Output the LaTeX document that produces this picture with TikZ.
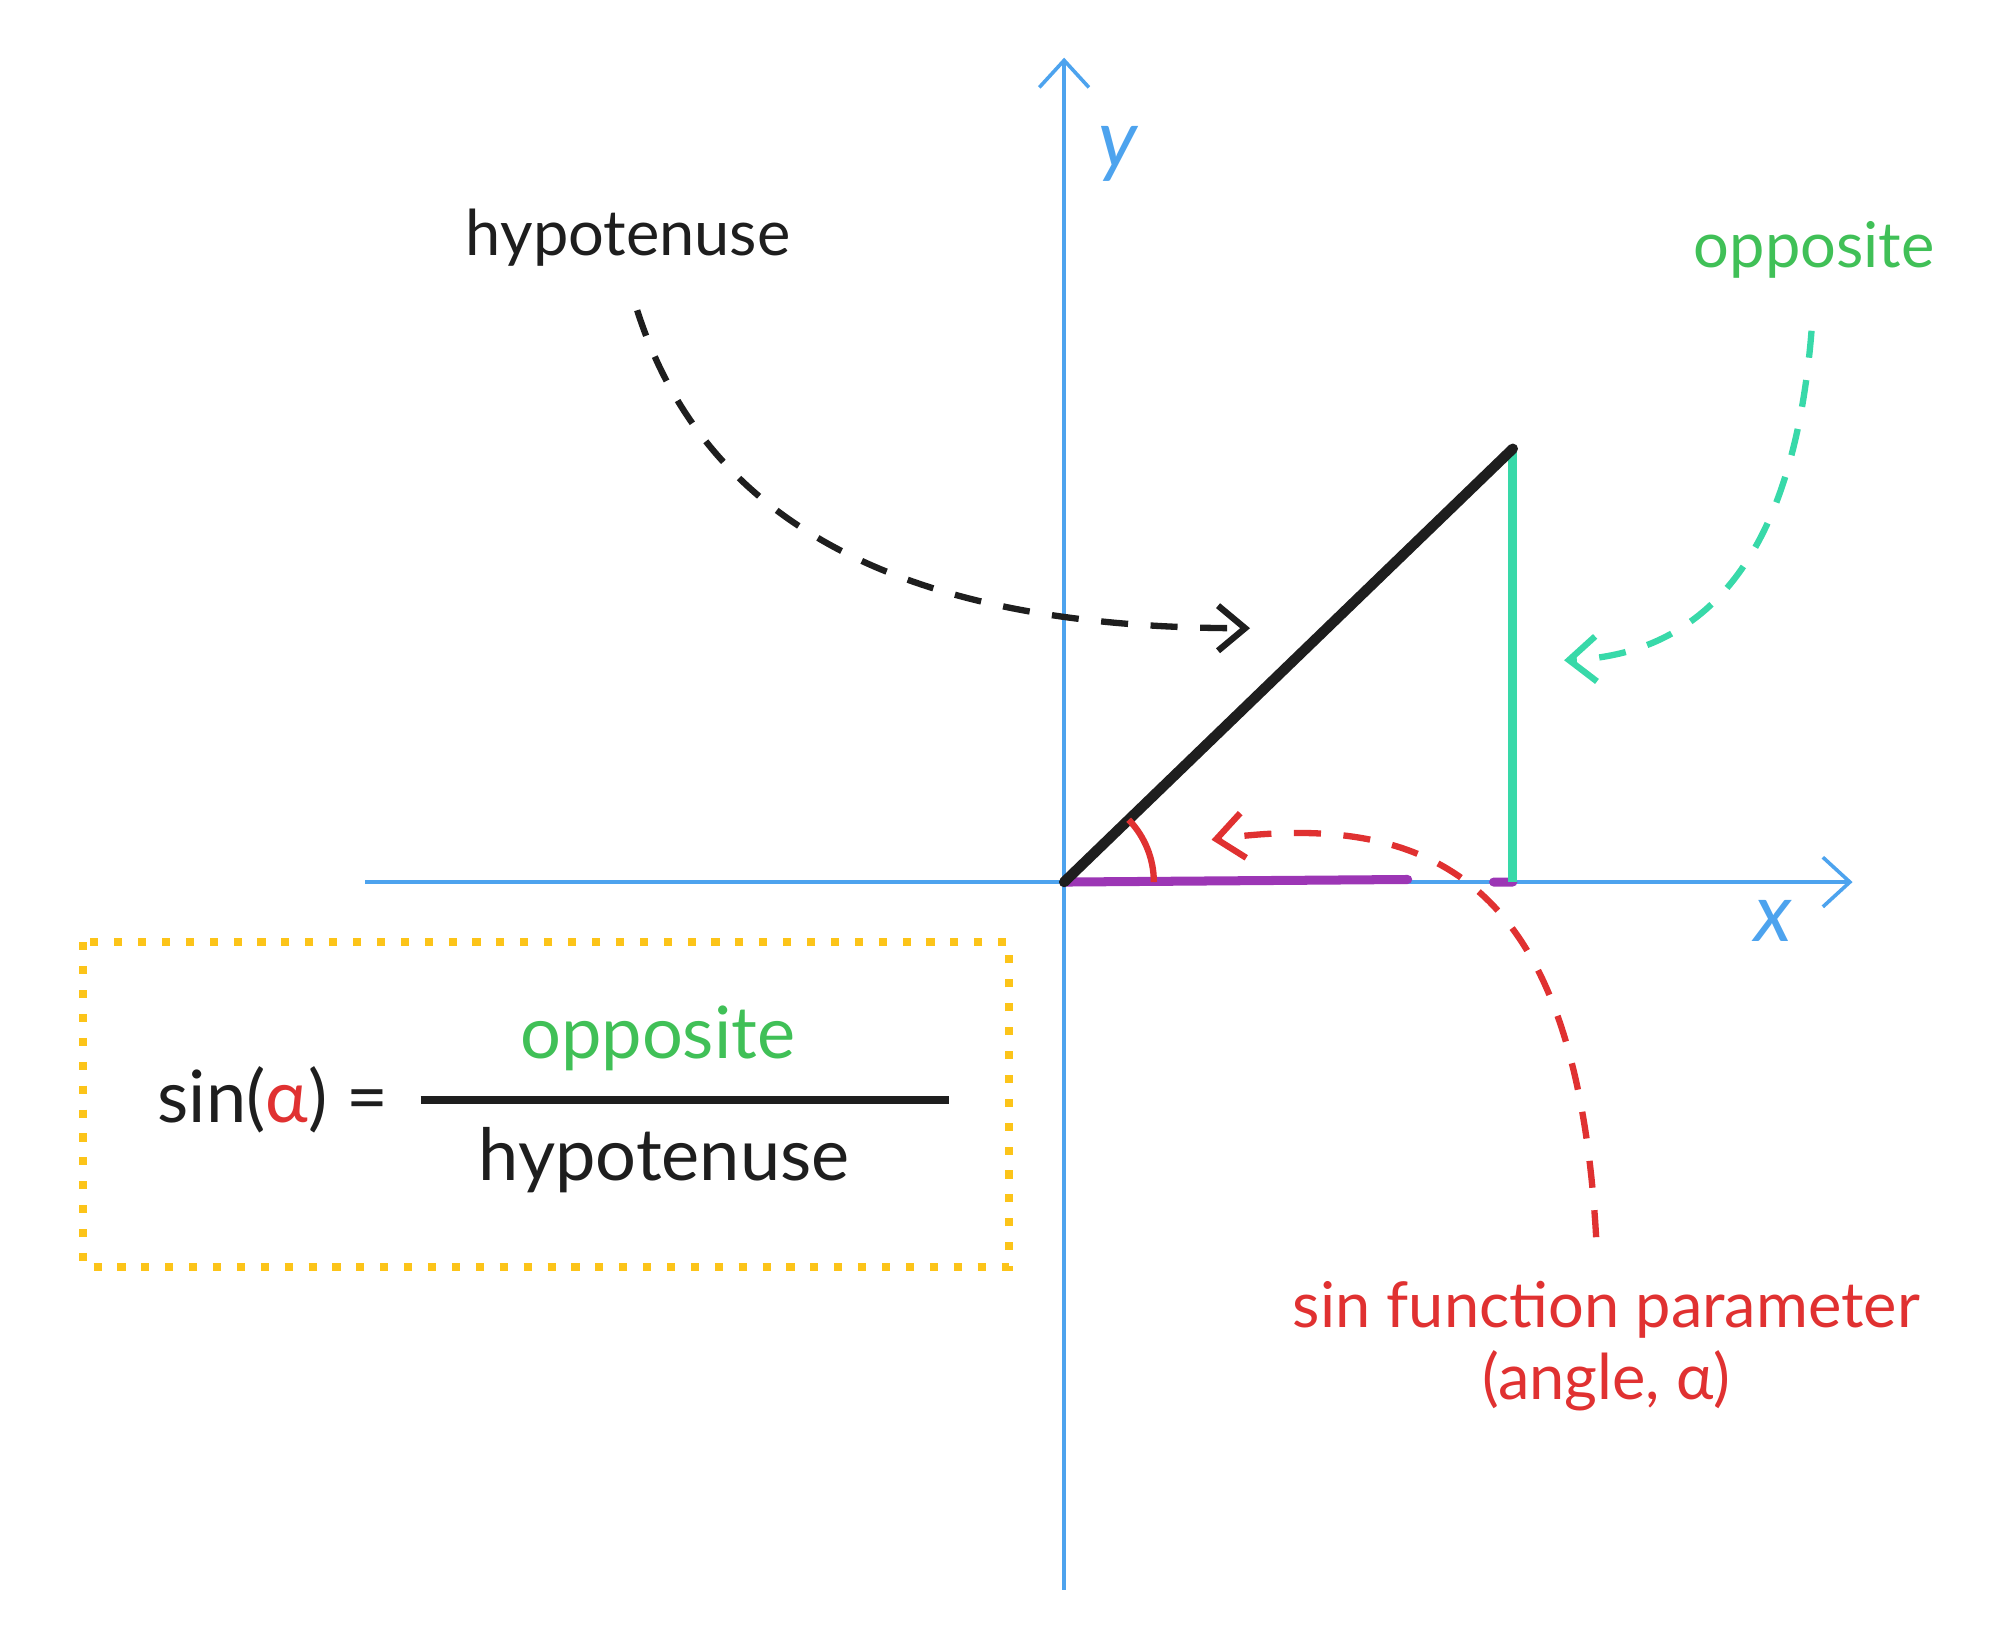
\documentclass[tikz,border=0pt]{standalone}
\usepackage{fontspec}
\setmainfont{Lato}
\usetikzlibrary{arrows.meta}
\definecolor{ax}{HTML}{4DA3EE}
\definecolor{grn}{HTML}{40C057}
\definecolor{teal}{HTML}{38D9A9}
\definecolor{rd}{HTML}{E03131}
\definecolor{pur}{HTML}{9C36B5}
\definecolor{yel}{HTML}{FCC419}
\definecolor{blk}{HTML}{1E1E1E}
\begin{document}
\begin{tikzpicture}[x=0.01cm,y=-0.01cm,
  axis/.style={ax,line width=0.8pt,-{Straight Barb[length=6pt,width=11pt,line width=0.8pt]}},
  lbl/.style={font=\fontsize{14}{16}\selectfont},
  darrow/.style={line width=1.4pt,dash pattern=on 6pt off 5pt,-{Straight Barb[length=6pt,width=10pt,line width=1.4pt]}}]
\useasboundingbox (0,0) rectangle (1560,1282);
\coordinate (yb) at (830,1240); \coordinate (yt) at (830,45);
\coordinate (xl) at (285,688); \coordinate (xr) at (1445,688);
\draw[axis] (yb) -- (yt);
\draw[axis] (xl) -- (xr);
\node[ax,font=\fontsize{18}{20}\itshape] (ylab) at (872,120) {y};
\node[ax,font=\fontsize{18}{20}\itshape] (xlab) at (1383,718) {x};
\coordinate (O) at (830,688); \coordinate (T) at (1180,350); \coordinate (B) at (1180,688);
\draw[pur,line width=2pt,line cap=round] (O) -- (1098,686) (1165,688) -- (B);
\draw[teal,line width=2pt] (T) -- (B);
\draw[blk,line width=2.3pt,line cap=round] (O) -- (T);
\draw[rd,line width=1.4pt] (900,688) arc[start angle=0,end angle=-44,radius=70];
\node[blk,lbl] (hyp) at (490,185) {hypotenuse};
\node[grn,lbl] (opp) at (1415,195) {opposite};
\node[rd,lbl,align=center] (sfp) at (1253,1050) {sin function parameter\\(angle, α)};
\coordinate (h1) at (497,242); \coordinate (h2) at (975,490);
\draw[darrow,blk] (h1) .. controls (560,440) and (760,490) .. (h2);
\coordinate (o1) at (1413,258); \coordinate (o2) at (1220,515);
\draw[darrow,teal] (o1) .. controls (1400,420) and (1340,510) .. (o2);
\coordinate (r1) at (1245,965); \coordinate (r2) at (945,655);
\draw[darrow,rd] (r1) .. controls (1230,700) and (1130,630) .. (r2);
\draw[yel,line width=1.8pt,dash pattern=on 1.8pt off 3.5pt] (65,735) rectangle (787,988);
\node[blk,font=\fontsize{16}{18}\selectfont,anchor=east] (sin) at (315,858) {sin(\textcolor{rd}{α}) =};
\draw[blk,line width=1.8pt] (328,858) -- (740,858);
\node[grn,font=\fontsize{16}{18}\selectfont] (fo) at (513,810) {opposite};
\node[blk,font=\fontsize{16}{18}\selectfont] (fh) at (518,905) {hypotenuse};
\end{tikzpicture}
\end{document}
